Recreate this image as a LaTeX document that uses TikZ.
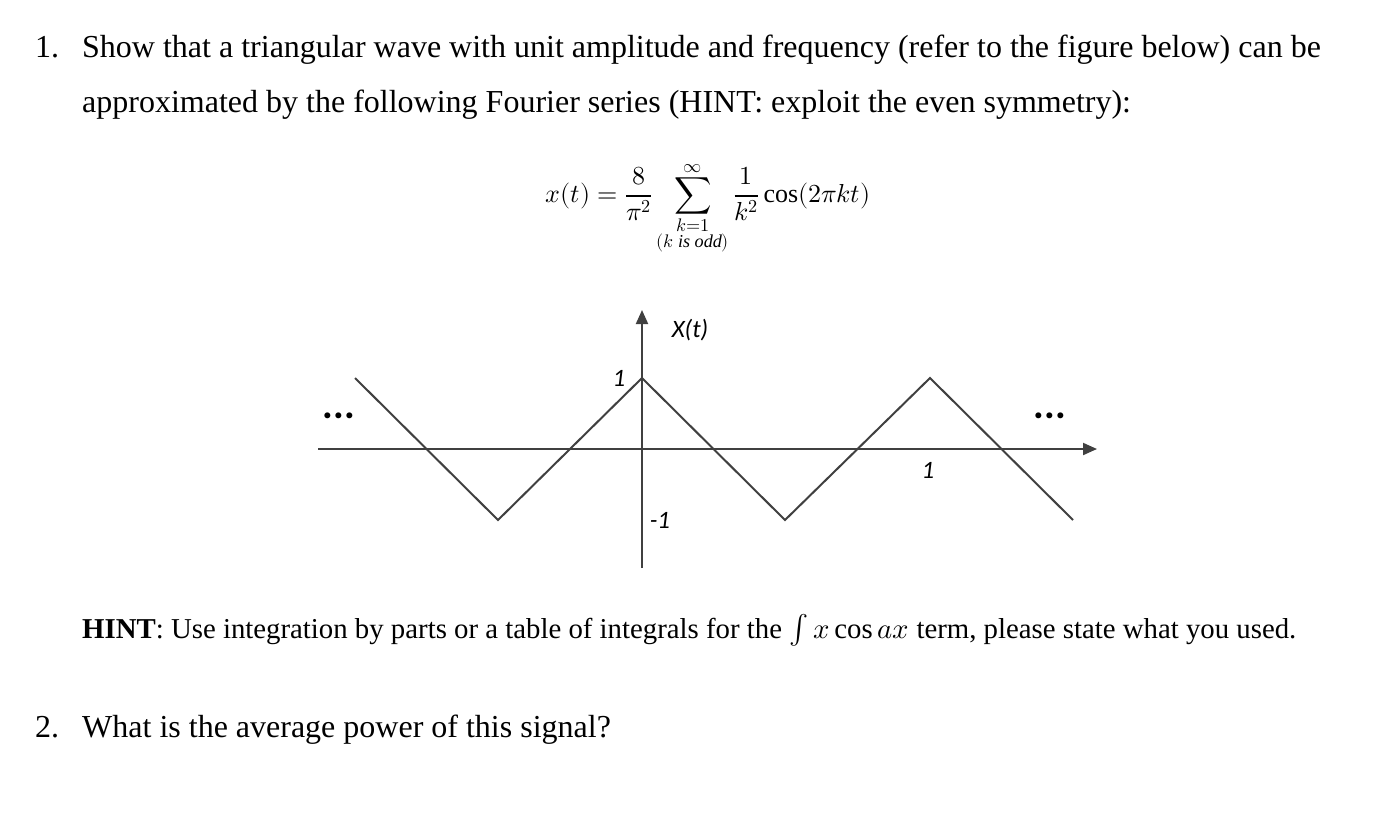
\documentclass[tikz,border=0pt]{standalone}
\usepackage{amsmath}
\usepackage{fontspec}
\usepackage{unicode-math}
\setmainfont{Liberation Serif}
\setmathfont{Latin Modern Math}
\newfontfamily\calib{Carlito}
\usetikzlibrary{arrows.meta}
\tikzset{
  body/.style={anchor=base west,inner sep=0pt,font=\fontsize{32}{36}\selectfont},
  ax/.style={line width=2pt,draw=black!75,-{Triangle[length=14pt,width=12pt]}},
  wave/.style={line width=2pt,draw=black!75},
  lab/.style={inner sep=0pt,font=\fontsize{25}{28}\selectfont\calib\itshape},
  dots/.style={inner sep=0pt,font=\fontsize{40}{40}\selectfont\bfseries\calib}
}
\begin{document}
\begin{tikzpicture}[x=1pt,y=-1pt]
\useasboundingbox (0,0) rectangle (1382,820);
\node[body] (n1) at (35,57) {1.};
\node[body] (t1) at (82,57) {Show that a triangular wave with unit amplitude and frequency (refer to the figure below) can be};
\node[body] (t2) at (82,112) {approximated by the following Fourier series (HINT: exploit the even symmetry):};
\node[inner sep=0pt,font=\fontsize{26}{30}\selectfont] (eq) at (708,208)
 {$\displaystyle x(t)=\frac{8}{\pi^2}\sum_{\substack{k=1\\(k\text{ \itshape is odd})}}^{\infty}\frac{1}{k^2}\cos(2\pi k t)$};
% axes
\coordinate (xs) at (318,449); \coordinate (xe) at (1097,449);
\coordinate (ys) at (642,568); \coordinate (ye) at (642,310);
\draw[ax] (xs) -- (xe);
\draw[ax] (ys) -- (ye);
\coordinate (w0) at (355,378); \coordinate (w1) at (498,520);
\coordinate (w2) at (642,378); \coordinate (w3) at (785,520);
\coordinate (w4) at (930,378); \coordinate (w5) at (1073,520);
\draw[wave] (w0) -- (w1) -- (w2) -- (w3) -- (w4) -- (w5);
\node[lab] (xt) at (690,330) {X(t)};
\node[lab] (one) at (619,378) {1};
\node[lab] (mone) at (660,520) {-1};
\node[lab] (onex) at (928,470) {1};
\node[dots] (dl) at (339,416) {...};
\node[dots] (dr) at (1050,416) {...};
\node[body,font=\fontsize{28.8}{32}\selectfont] (hint) at (82,638) {\textbf{HINT}: Use integration by parts or a table of integrals for the $\int x\cos ax$ term, please state what you used.};
\node[body] (n2) at (35,737) {2.};
\node[body] (t3) at (82,737) {What is the average power of this signal?};
\end{tikzpicture}
\end{document}
